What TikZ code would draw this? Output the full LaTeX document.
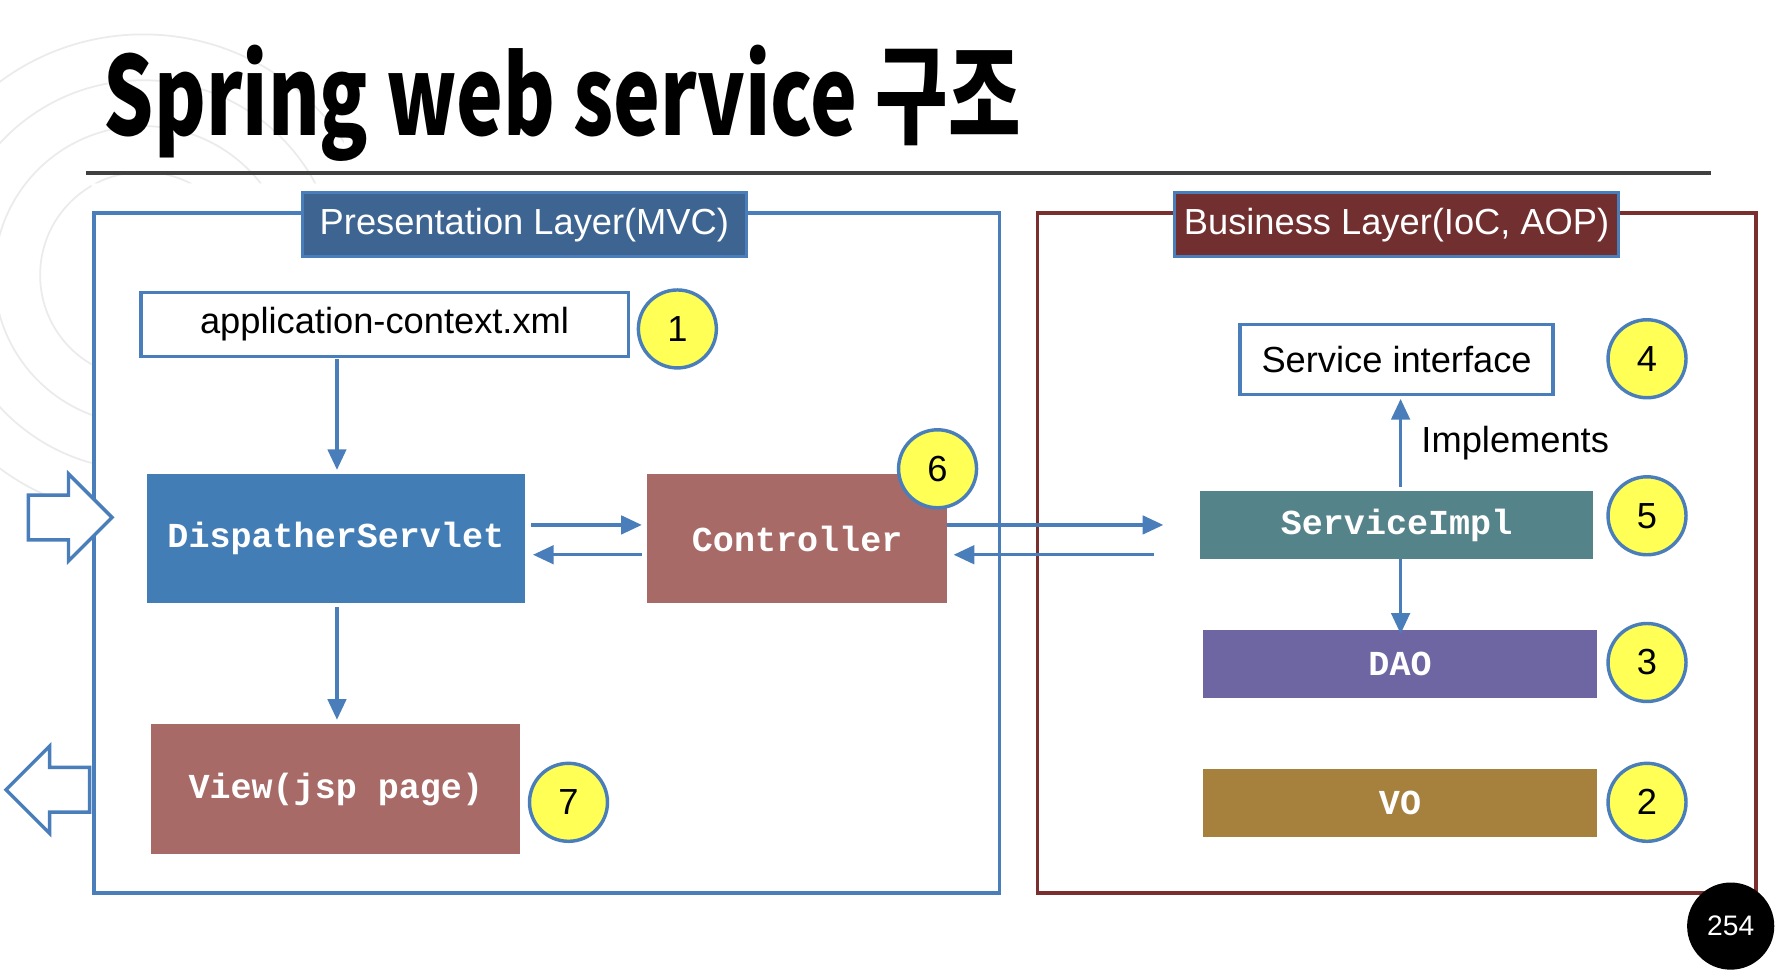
\documentclass[tikz,border=0pt]{standalone}
\usepackage{fontspec}
\setmainfont{Liberation Sans}
\setmonofont{Liberation Mono}
\newfontfamily\kr{Noto Sans CJK KR}
\usetikzlibrary{arrows.meta,shapes.arrows}
\definecolor{lblue}{HTML}{4A7EBB}
\definecolor{hblue}{HTML}{3E6592}
\definecolor{hred}{HTML}{722F2F}
\definecolor{bred}{HTML}{7A2E2E}
\definecolor{dsblue}{HTML}{427DB5}
\definecolor{ctred}{HTML}{A76A66}
\definecolor{siteal}{HTML}{55838A}
\definecolor{daopur}{HTML}{6E66A2}
\definecolor{vogold}{HTML}{A6813D}
\definecolor{ylw}{HTML}{FFFF55}
\tikzset{
  px/.style={x=0.01cm,y=-0.01cm},
  hdr/.style={draw=lblue,line width=0.03cm,text=white,font=\fontsize{9}{10}\selectfont,inner sep=0pt},
  wbox/.style={draw=lblue,line width=0.03cm,fill=white,font=\fontsize{9}{10}\selectfont,inner sep=0pt},
  cbox/.style={text=white,font=\ttfamily\bfseries\fontsize{8.7}{10}\selectfont,inner sep=0pt},
  num/.style={circle,draw=lblue,line width=0.03cm,fill=ylw,minimum size=0.68cm,inner sep=0pt,font=\fontsize{9}{10}\selectfont},
  arr/.style={draw=lblue,line width=0.03cm,-{Triangle[length=0.18cm,width=0.16cm]}},
  blk/.style={single arrow,draw=lblue,fill=white,line width=0.03cm,minimum height=0.73cm,minimum width=0.73cm,single arrow head extend=0.185cm,inner sep=0.18cm},
}
\begin{document}
\begin{tikzpicture}[px]
\useasboundingbox (0,0) rectangle (1560,851);
\fill[white] (0,0) rectangle (1560,851);
% background circles
\begin{scope}
\clip (0,0) rectangle (80,851) (0,0) rectangle (300,160);
\foreach \r in {90,130,170,210}
  \draw[black!8,line width=0.015cm] (125,240) circle (\r);
\end{scope}
% title
\node[anchor=base west,font=\kr\bfseries\fontsize{27}{30}\selectfont,inner sep=0pt,xscale=0.725] (title) at (90,118) {Spring web service 구조};
\draw[black!75,line width=0.04cm] (75,151) -- (1493,151);
% frames
\draw[lblue,line width=0.03cm] (82,186) rectangle (872,779);
\draw[bred,line width=0.03cm] (905,186) rectangle (1532,779);
\node[hdr,fill=hblue,minimum width=3.87cm,minimum height=0.56cm] (pl) at (457.5,196) {Presentation Layer(MVC)};
\node[hdr,fill=hred,minimum width=3.87cm,minimum height=0.56cm] (bl) at (1218.5,196) {Business Layer(IoC, AOP)};
% left
\node[wbox,minimum width=4.25cm,minimum height=0.56cm] (app) at (335.5,283) {application-context.xml};
\node[num] (n1) at (591,287) {1};
\node[cbox,fill=dsblue,minimum width=3.30cm,minimum height=1.12cm] (ds) at (293,470) {DispatherServlet};
\node[cbox,fill=ctred,minimum width=2.61cm,minimum height=1.12cm] (ct) at (695.5,470) {Controller};
\node[num] (n6) at (818,409) {6};
\node[cbox,fill=ctred,minimum width=3.22cm,minimum height=1.13cm] (vw) at (293,688.5) {View(jsp page)};
\node[num] (n7) at (496,700) {7};
% right
\node[wbox,minimum width=2.73cm,minimum height=0.61cm] (si) at (1218.5,313.5) {Service interface};
\node[num] (n4) at (1437,313) {4};
\node[font=\fontsize{9}{10}\selectfont] (impl) at (1322,387) {Implements};
\node[cbox,fill=siteal,minimum width=3.43cm,minimum height=0.60cm] (sim) at (1218.5,458) {ServiceImpl};
\node[num] (n5) at (1437,450) {5};
\node[cbox,fill=daopur,minimum width=3.43cm,minimum height=0.59cm] (dao) at (1221.5,579.5) {DAO};
\node[num] (n3) at (1437,578) {3};
\node[cbox,fill=vogold,minimum width=3.43cm,minimum height=0.59cm] (vo) at (1221.5,700.5) {VO};
\node[num] (n2) at (1437,700) {2};
\node[circle,fill=black,text=white,minimum size=0.76cm,inner sep=0pt,font=\fontsize{7}{8}\selectfont] (pg) at (1510,808) {254};
% connectors
\coordinate (a1) at (294,313); \coordinate (a2) at (294,410);
\draw[arr] (a1) -- (a2);
\coordinate (b1) at (294,530); \coordinate (b2) at (294,628);
\draw[arr] (b1) -- (b2);
\coordinate (c1) at (463,458); \coordinate (c2) at (560,458);
\draw[arr] (c1) -- (c2);
\coordinate (d1) at (560,484); \coordinate (d2) at (465,484);
\draw[arr] (d1) -- (d2);
\coordinate (e1) at (826,458); \coordinate (e2) at (1015,458);
\draw[arr] (e1) -- (e2);
\coordinate (f1) at (1007,484); \coordinate (f2) at (832,484);
\draw[arr] (f1) -- (f2);
\coordinate (g1) at (1222,425); \coordinate (g2) at (1222,348);
\draw[arr] (g1) -- (g2);
\coordinate (h1) at (1222,488); \coordinate (h2) at (1222,553);
\draw[arr] (h1) -- (h2);
% block arrows
\node[blk] (inA) at (51.5,451.5) {};
\node[blk,shape border rotate=180] (outA) at (51.5,689) {};
\end{tikzpicture}
\end{document}
